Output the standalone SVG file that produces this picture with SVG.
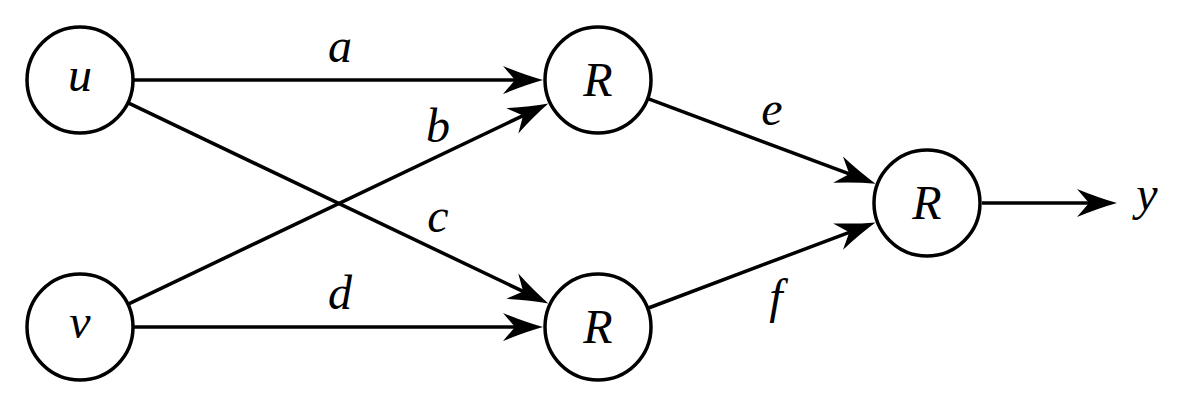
<svg xmlns="http://www.w3.org/2000/svg" width="1200" height="407" viewBox="0 0 1200 407">
  <style>
    .node { fill: #ffffff; stroke: #000000; stroke-width: 3.5; }
    .edge { fill: none; stroke: #000000; stroke-width: 3.5; marker-end: url(#head); }
    text { font-family: "Liberation Serif", "Times New Roman", serif; font-style: italic; font-size: 48px; fill: #000000; text-anchor: middle; }
  </style>
  <defs>
    <marker id="head" markerUnits="userSpaceOnUse" markerWidth="42" markerHeight="30" viewBox="0 -15 42 30" refX="12" refY="0" orient="auto" overflow="visible">
      <path d="M40,0 Q22,-5 0,-14 L12,0 L0,14 Q22,5 40,0 Z" fill="#000000"/>
    </marker>
  </defs>
  <rect width="1200" height="407" fill="#ffffff"/>
  <g id="connectors">
    <line class="edge" x1="134" y1="80" x2="515" y2="80"/>
    <line class="edge" x1="128.7" y1="103.2" x2="523.1" y2="291.4"/>
    <line class="edge" x1="128.7" y1="303.8" x2="523.1" y2="115.6"/>
    <line class="edge" x1="134" y1="327" x2="515" y2="327"/>
    <line class="edge" x1="648.6" y1="98.9" x2="849.3" y2="173.9"/>
    <line class="edge" x1="648.5" y1="308" x2="849.3" y2="232.3"/>
    <line class="edge" x1="982" y1="203" x2="1089" y2="203"/>
    <text x="340" y="62">a</text>
    <text x="438" y="142">b</text>
    <text x="438" y="232">c</text>
    <text x="340" y="309">d</text>
    <text x="772" y="125">e</text>
    <text x="776" y="313">f</text>
    <text x="1147" y="210">y</text>
  </g>
  <g id="node-u">
    <circle class="node" cx="80" cy="80" r="53"/>
    <text x="80" y="91">u</text>
  </g>
  <g id="node-v">
    <circle class="node" cx="80" cy="327" r="53"/>
    <text x="80" y="338">v</text>
  </g>
  <g id="node-r1">
    <circle class="node" cx="598" cy="80" r="53"/>
    <text x="598" y="96">R</text>
  </g>
  <g id="node-r2">
    <circle class="node" cx="598" cy="327" r="53"/>
    <text x="598" y="343">R</text>
  </g>
  <g id="node-r3">
    <circle class="node" cx="927" cy="203" r="53"/>
    <text x="927" y="219">R</text>
  </g>
</svg>
